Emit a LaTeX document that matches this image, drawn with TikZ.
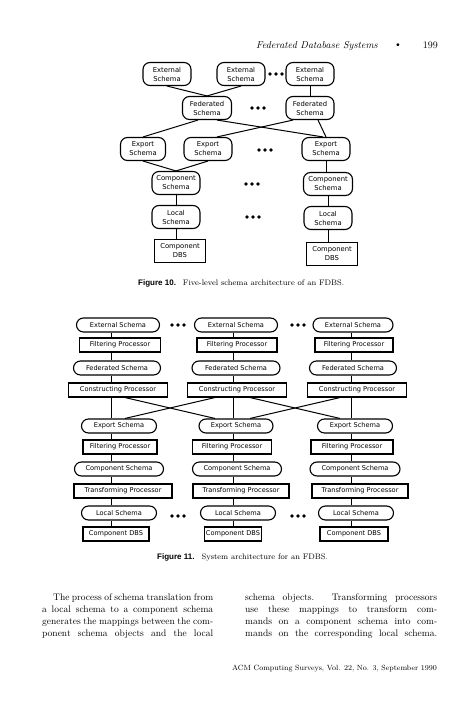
\documentclass[tikz,border=0pt]{standalone}
\usepackage{fontspec}
\newfontfamily\figfont{DejaVu Sans}
\newfontfamily\capfont{Liberation Sans}

\tikzset{
  schema/.style={draw, line width=1.1pt, rounded corners=7pt, fill=white, inner sep=0pt, align=center},
  proc/.style={draw, line width=1.1pt, fill=white, inner sep=0pt},
  link/.style={line width=1pt},
}
\newcommand{\threedots}[2]{\foreach \d in {-6,0,6} \fill (#1+\d,#2) circle (1.8pt);}

\begin{document}
\begin{tikzpicture}[x=1pt,y=-1pt]
  \useasboundingbox (0,0) rectangle (474,711);

  % running head
  \node[anchor=base east, inner sep=0] (head) at (378,49) {\fontsize{10}{12}\selectfont\itshape Federated Database Systems};
  \node[inner sep=0] (head-dot) at (398,46) {\fontsize{10}{12}\selectfont\textbullet};
  \node[anchor=base east, inner sep=0] (page) at (438,49) {\fontsize{10}{12}\selectfont 199};

  % Figure 10
  \begin{scope}[font=\figfont\fontsize{6.8}{9}\selectfont, every node/.append style={minimum height=23pt}]
    \node[schema, minimum width=48pt] (ext1) at (167,74) {External\\Schema};
    \node[schema, minimum width=48pt] (ext2) at (241,74) {External\\Schema};
    \node[schema, minimum width=48pt] (ext3) at (310,74) {External\\Schema};
    \node[schema, minimum width=49pt] (fed1) at (207,108) {Federated\\Schema};
    \node[schema, minimum width=48pt] (fed3) at (310,108) {Federated\\Schema};
    \node[schema, minimum width=45pt] (exp1) at (143,149) {Export\\Schema};
    \node[schema, minimum width=48pt] (exp2) at (208,149) {Export\\Schema};
    \node[schema, minimum width=48pt] (exp3) at (326,149) {Export\\Schema};
    \node[schema, minimum width=48pt] (com1) at (176,183) {Component\\Schema};
    \node[schema, minimum width=49pt] (com3) at (328,184) {Component\\Schema};
    \node[schema, minimum width=48pt] (loc1) at (176,217) {Local\\Schema};
    \node[schema, minimum width=48pt] (loc3) at (328,218) {Local\\Schema};
    \node[proc, align=center, minimum width=51pt] (dbs1) at (180,251) {Component\\DBS};
    \node[proc, align=center, minimum width=51pt] (dbs3) at (332,254) {Component\\DBS};
  \end{scope}
  \draw[link] (ext1.south) -- (fed1.north);
  \draw[link] (ext2.south) -- (fed1.north);
  \draw[link] (ext3) -- (fed3);
  \draw[link] ([xshift=-9pt]fed1.south) -- (exp1.north);
  \draw[link] ([xshift=10pt]fed1.south) -- ([xshift=-3pt]exp3.north);
  \draw[link] ([xshift=-17pt]fed3.south) -- ([xshift=9pt]exp2.north);
  \draw[link] ([xshift=8pt]fed3.south) -- (exp3.north);
  \draw[link] (exp1.south) -- (com1.north);
  \draw[link] (exp2.south) -- (com1.north);
  \draw[link] (exp3.south) -- (exp3.south |- com3.north);
  \draw[link] (com1) -- (loc1);
  \draw[link] (com3.south) -- (com3.south |- loc3.north);
  \draw[link] (loc1.south) -- (loc1.south |- dbs1.north);
  \draw[link] (loc3.south) -- (loc3.south |- dbs3.north);
  \threedots{276}{74}
  \threedots{258}{108}
  \threedots{265}{150}
  \threedots{252}{184}
  \threedots{253}{217}

  \node[anchor=base west, inner sep=0] (cap10) at (138,285)
    {{\capfont\bfseries\fontsize{8}{9}\selectfont Figure 10.}\hspace{7pt}{\fontsize{8}{9}\selectfont Five-level schema architecture of an FDBS.}};

  % Figure 11
  \coordinate (col-a) at (111,0);
  \coordinate (col-b) at (233,0);
  \coordinate (col-c) at (351,0);
  \begin{scope}[font=\figfont\fontsize{6.6}{8}\selectfont, every node/.append style={minimum height=14pt}]
    \node[schema, minimum width=83pt] (ext-a) at (118,325) {External Schema};
    \node[schema, minimum width=83pt] (ext-b) at (236,325) {External Schema};
    \node[schema, minimum width=80pt] (ext-c) at (353,325) {External Schema};
    \node[proc, minimum width=81pt] (filt-a) at (120,345) {Filtering Processor};
    \node[proc, minimum width=80pt] (filt-b) at (237,345) {Filtering Processor};
    \node[proc, minimum width=78pt] (filt-c) at (354,345) {Filtering Processor};
    \node[schema, minimum width=87pt] (fed-a) at (117,368) {Federated Schema};
    \node[schema, minimum width=88pt] (fed-b) at (236,368) {Federated Schema};
    \node[schema, minimum width=87pt] (fed-c) at (353,368) {Federated Schema};
    \node[proc, minimum width=99pt] (con-a) at (118,390) {Constructing Processor};
    \node[proc, minimum width=99pt] (con-b) at (237,390) {Constructing Processor};
    \node[proc, minimum width=99pt] (con-c) at (357,390) {Constructing Processor};
    \node[schema, minimum width=75pt] (exp-a) at (119,426) {Export Schema};
    \node[schema, minimum width=74pt] (exp-b) at (236,426) {Export Schema};
    \node[schema, minimum width=75pt] (exp-c) at (355,426) {Export Schema};
    \node[proc, minimum width=74pt] (filtb-a) at (120,447) {Filtering Processor};
    \node[proc, minimum width=79pt] (filtb-b) at (232,447) {Filtering Processor};
    \node[proc, minimum width=82pt] (filtb-c) at (352,447) {Filtering Processor};
    \node[schema, minimum width=89pt] (comp-a) at (119,469) {Component Schema};
    \node[schema, minimum width=89pt] (comp-b) at (237,469) {Component Schema};
    \node[schema, minimum width=90pt] (comp-c) at (355,469) {Component Schema};
    \node[proc, minimum width=98pt] (trans-a) at (123,491) {Transforming Processor};
    \node[proc, minimum width=96pt] (trans-b) at (241,491) {Transforming Processor};
    \node[proc, minimum width=96pt] (trans-c) at (360,491) {Transforming Processor};
    \node[schema, minimum width=75pt] (loc-a) at (119,513) {Local Schema};
    \node[schema, minimum width=75pt] (loc-b) at (238,513) {Local Schema};
    \node[schema, minimum width=75pt] (loc-c) at (356,513) {Local Schema};
    \node[proc, minimum width=66pt] (dbs-a) at (116,534) {Component DBS};
    \node[proc, minimum width=57pt] (dbs-b) at (233,534) {Component DBS};
    \node[proc, minimum width=68pt] (dbs-c) at (354,534) {Component DBS};
  \end{scope}
  \foreach \c in {a,b,c}{
    \foreach \u/\v in {ext/filt, filt/fed, fed/con, con/exp, exp/filtb, filtb/comp, comp/trans, trans/loc, loc/dbs}
      \draw[link] (col-\c |- \u-\c.south) -- (col-\c |- \v-\c.north);
  }
  \draw[link] ([xshift=7pt]con-a.south) -- ([xshift=-21pt]exp-b.north);
  \draw[link] ([xshift=-22pt]con-b.south) -- ([xshift=6pt]exp-a.north);
  \draw[link] ([xshift=13pt]con-b.south) -- ([xshift=-15pt]exp-c.north);
  \draw[link] ([xshift=-17pt]con-c.south) -- ([xshift=14pt]exp-b.north);
  \threedots{178}{325}
  \threedots{298}{325}
  \threedots{178}{516}
  \threedots{298}{516}

  \node[anchor=base west, inner sep=0] (cap11) at (157,559)
    {{\capfont\bfseries\fontsize{8}{9}\selectfont Figure 11.}\hspace{7pt}{\fontsize{8}{9}\selectfont System architecture for an FDBS.}};

  % body text
  \node[anchor=north west, inner sep=0] (body-left) at (42,594)
    {\parbox[t]{171pt}{\fontsize{9.5}{12}\selectfont\parfillskip=0pt \hspace*{11pt}The process of schema translation from\linebreak
     a local schema to a component schema\linebreak
     generates the mappings between the com-\linebreak
     ponent schema objects and the local}};
  \node[anchor=north west, inner sep=0] (body-right) at (245,594)
    {\parbox[t]{192pt}{\fontsize{9.5}{12}\selectfont\parfillskip=0pt schema objects. Transforming processors\linebreak
     use these mappings to transform com-\linebreak
     mands on a component schema into com-\linebreak
     mands on the corresponding local schema.}};

  \node[anchor=base east, inner sep=0] (foot) at (437,670)
    {\fontsize{7.5}{9}\selectfont ACM Computing Surveys, Vol. 22, No. 3, September 1990};
\end{tikzpicture}
\end{document}
